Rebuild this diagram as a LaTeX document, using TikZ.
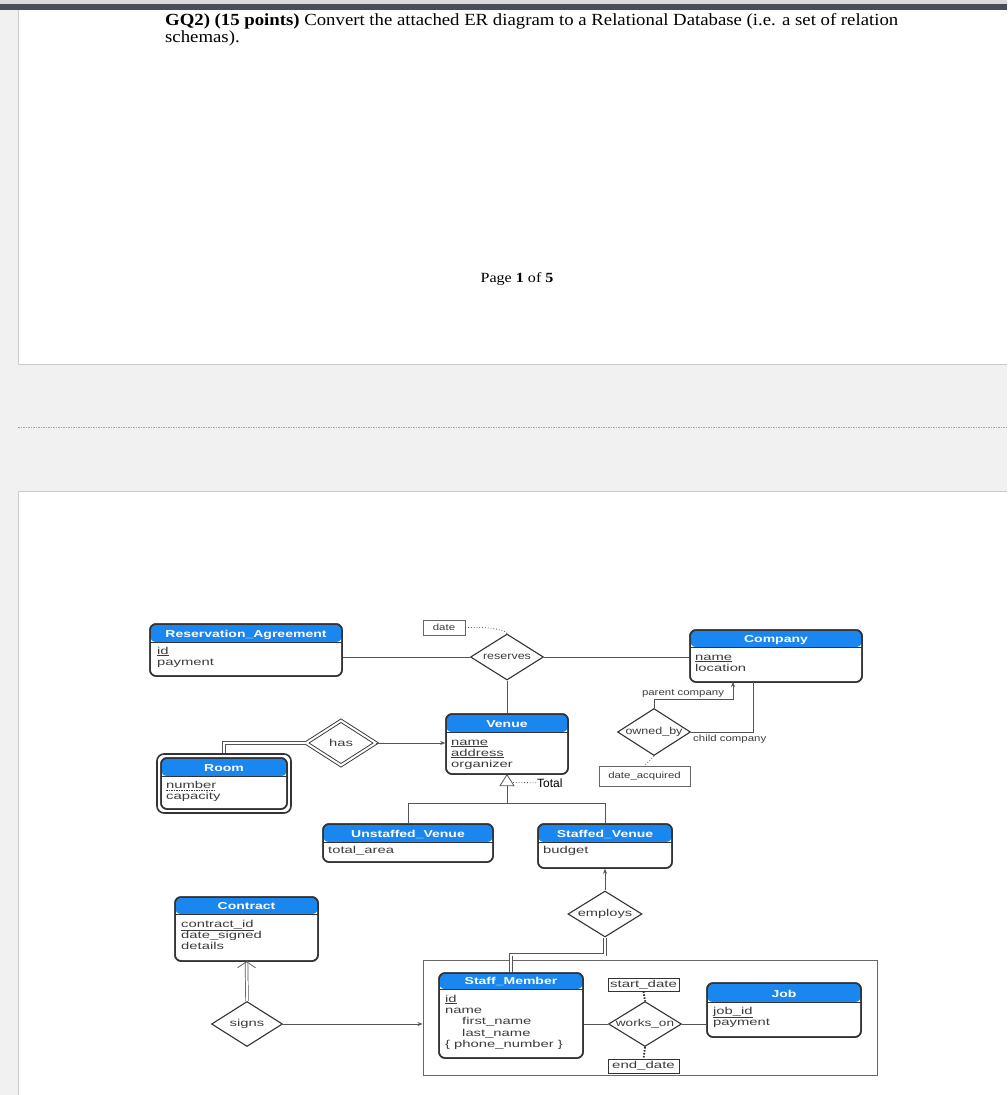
\documentclass[tikz,border=0pt]{standalone}
\usepackage{fontspec}
\setmainfont{Liberation Serif}
\newfontfamily\arialf{Liberation Sans}
\usetikzlibrary{shapes.geometric,arrows.meta}
\definecolor{hdrblue}{HTML}{1A86F0}
\definecolor{pagegray}{HTML}{F1F1F1}
\definecolor{barlight}{HTML}{DADADA}
\definecolor{bardark}{HTML}{494E59}
\definecolor{pageedge}{HTML}{CACACA}
\definecolor{lineg}{HTML}{555555}
\definecolor{txtg}{HTML}{3C3C3C}
\definecolor{eb}{HTML}{333333}
\newcommand{\tx}[2][1.48]{\scalebox{#1}[1]{#2}}
\newsavebox{\lineonebox}
\AtBeginDocument{%
  \sbox{\lineonebox}{\fontsize{17}{16}\selectfont\textbf{GQ2) (15 points)} Convert the attached ER diagram to a Relational Database (i.e. a set of relation}%
  \edef\lineonew{\the\wd\lineonebox}%
  \pgfmathsetmacro\topfac{733/\lineonew}%
}
\newcommand{\entity}[7]{%
  \node[ebox, minimum width={(#4-#2)*1pt}, minimum height={(#5-#3)*1pt},
    path picture={%
      \fill[hdrblue] (path picture bounding box.north west) rectangle ([yshift={(#3-#6)*1pt}]path picture bounding box.north east);
      \draw[eb, line width=0.8pt] ([yshift={(#3-#6)*1pt}]path picture bounding box.north west) -- ([yshift={(#3-#6)*1pt}]path picture bounding box.north east);}
  ] (#1) at ({(#2+#4)/2},{(#3+#5)/2}) {};
  \node[etitle] (#1-t) at ({(#2+#4)/2},{#6-5}) {\tx[1.4]{#7}};
}
\begin{document}
\begin{tikzpicture}[x=1pt,y=-1pt,
  ebox/.style={draw=eb, line width=1.5pt, rounded corners=6pt, fill=white, inner sep=0,
     postaction={draw=eb, line width=1.5pt, rounded corners=6pt}},
  etitle/.style={inner sep=0, anchor=base, font=\arialf\bfseries\fontsize{10}{11}\selectfont, text=white},
  attr/.style={inner sep=0, anchor=base west, font=\arialf\fontsize{10}{11}\selectfont, text=txtg},
  rtext/.style={inner sep=0, font=\arialf\fontsize{10}{11}\selectfont, text=txtg},
  small/.style={inner sep=0, font=\arialf\fontsize{9}{10}\selectfont, text=txtg},
  abox/.style={draw=black!60, line width=0.8pt, inner sep=0, fill=white, font=\arialf\fontsize{9}{10}\selectfont, text=txtg},
  rel/.style={diamond, draw=eb, line width=1.1pt, fill=white, inner sep=0},
  conn/.style={draw=lineg, line width=0.8pt},
  arr/.style={conn, -{Stealth[length=5pt,width=4pt]}},
  dbl/.style={draw=lineg, line width=0.7pt, double=white, double distance=2pt},
  dotc/.style={draw=lineg, line width=0.8pt, dotted},
  dotthick/.style={draw=black!85, line width=1.8pt, dash pattern=on 1.5pt off 1.5pt}
]
\useasboundingbox (0,0) rectangle (1007,1095);
% page background
\fill[pagegray] (0,0) rectangle (1007,1095);
\fill[barlight] (0,0) rectangle (1007,3.5);
\fill[bardark] (0,3.5) rectangle (1007,10);
\fill[white] (18,10) rectangle (1007,364);
\draw[pageedge, line width=1pt] (18,10) -- (18,364) -- (1007,364);
\draw[black!35, line width=1pt, dash pattern=on 1.5pt off 1pt] (18,427) -- (1007,427);
\fill[white] (18,491) rectangle (1007,1095);
\draw[pageedge, line width=1pt] (1007,491) -- (18,491) -- (18,1095);
% question text
\node[anchor=base west, inner sep=0] (q1) at (165,25) {\scalebox{\topfac}[1]{\usebox{\lineonebox}}};
\node[anchor=base west, inner sep=0] (q2) at (165,42) {\scalebox{\topfac}[1]{\fontsize{17}{16}\selectfont schemas).}};
\node[anchor=base, inner sep=0] (pg) at (517,282) {\scalebox{1.15}[1]{\fontsize{14}{16}\selectfont Page \textbf{1} of \textbf{5}}};

% aggregation box
\node[draw=black!60, line width=0.9pt, fill=white, minimum width=454pt, minimum height=115pt, inner sep=0] (agg) at (650,1017.5) {};

% entities
\entity{ra}{150}{624}{342}{676}{642}{Reservation\_Agreement}
\node[attr] (ra-a) at (157,654) {\tx{\begin{tabular}[t]{@{}l@{}}\underline{id}\\payment\end{tabular}}};

\entity{comp}{690}{630}{862}{682}{647}{Company}
\node[attr] (comp-a) at (695,660) {\def\arraystretch{1.09}\tx{\begin{tabular}[t]{@{}l@{}}\underline{name}\\location\end{tabular}}};

\entity{venue}{446}{714}{568}{774}{732}{Venue}
\node[attr] (venue-a) at (451,745) {\tx{\begin{tabular}[t]{@{}l@{}}\underline{name}\\\underline{address}\\organizer\end{tabular}}};

\node[draw=eb, line width=1.6pt, rounded corners=7pt, minimum width=134pt, minimum height=59pt, inner sep=0] (roomo) at (224,783.5) {};
\entity{room}{161}{758}{287}{809}{776}{Room}
\node[attr] (room-a) at (166,788) {\tx{\begin{tabular}[t]{@{}l@{}}number\\capacity\end{tabular}}};
\draw[txtg, line width=0.6pt, dash pattern=on 1.5pt off 1pt] ([yshift=-1.8pt]room-a.base west) -- ++(50,0);

\entity{uv}{323}{824}{493}{862}{842}{Unstaffed\_Venue}
\node[attr] (uv-a) at (328,853) {\tx{total\_area}};

\entity{sv}{538}{824}{672}{868}{842}{Staffed\_Venue}
\node[attr] (sv-a) at (543,853) {\tx{budget}};

\entity{ct}{175}{897}{318}{961}{914}{Contract}
\node[attr] (ct-a) at (181,927) {\tx{\begin{tabular}[t]{@{}l@{}}\underline{contract\_id}\\date\_signed\\details\end{tabular}}};

\entity{sm}{439}{973}{583}{1058}{989}{Staff\_Member}
\node[attr] (sm-a) at (445,1002) {\def\arraystretch{1.03}\tx{\begin{tabular}[t]{@{}l@{}}\underline{id}\\name\\\hspace{11.5pt}first\_name\\\hspace{11.5pt}last\_name\\\{ phone\_number \}\end{tabular}}};

\entity{job}{707}{983}{861}{1037}{1002}{Job}
\node[attr] (job-a) at (713,1014) {\tx{\begin{tabular}[t]{@{}l@{}}\underline{job\_id}\\payment\end{tabular}}};

% relationships
\node[rel, minimum width=73pt, minimum height=46pt] (res) at (507,657) {};
\node[rtext] (res-l) at (res) {\tx[1.25]{reserves}};
\node[rel, double=white, double distance=2pt, line width=0.9pt, minimum width=70pt, minimum height=45pt] (has) at (341,743) {};
\node[rtext] (has-l) at (has) {\tx[1.48]{has}};
\node[rel, minimum width=73pt, minimum height=47pt] (own) at (654,732) {};
\node[rtext] (own-l) at (own) {\tx[1.25]{owned\_by}};
\node[rel, minimum width=74pt, minimum height=46pt] (emp) at (605,914) {};
\node[rtext] (emp-l) at (emp) {\tx[1.46]{employs}};
\node[rel, minimum width=71pt, minimum height=45pt] (signs) at (247,1024) {};
\node[rtext] (signs-l) at (signs) {\tx[1.48]{signs}};
\node[rel, minimum width=73pt, minimum height=45pt] (works) at (645,1024) {};
\node[rtext] (works-l) at (works) {\tx[1.36]{works\_on}};

% attribute boxes
\node[abox, minimum width=42pt, minimum height=15pt] (date) at (444,627.5) {\tx[1.27]{date}};
\node[abox, minimum width=91pt, minimum height=20pt] (dacq) at (644.5,776) {\tx[1.27]{date\_acquired}};
\node[abox, draw=black!80, minimum width=71pt, minimum height=13pt, font=\arialf\fontsize{10}{11}\selectfont] (sd) at (643.5,984.5) {\tx[1.5]{start\_date}};
\node[abox, draw=black!80, minimum width=71pt, minimum height=14pt, font=\arialf\fontsize{10}{11}\selectfont] (ed) at (643.5,1066) {\tx[1.5]{end\_date}};

% connectors
\draw[conn] (ra.east |- res.west) -- (res.west);
\draw[conn] (res.east) -- (res.east -| comp.west);
\draw[conn] (res.south) -- (venue.north);
\draw[dotc] (date.east) .. controls (490,627) and (503,629) .. (res.north);
\draw[arr] (has.east) -- (has.east -| venue.west);
\draw[dbl] (has.west) -| (roomo.north);
\coordinate (pcc) at (733,682);
\coordinate (ccc) at (753,682);
\draw[arr] (own.north) -- ++(0,-9) -| (pcc);
\draw[conn] (own.east) -| (ccc);
\node[small, anchor=base] (pcl) at (683,695) {\tx[1.27]{parent company}};
\node[small, anchor=base west] (ccl) at (693,741) {\tx[1.27]{child company}};
\draw[dotc] (own.south) -- (dacq.north);

% ISA
\draw[conn, fill=white] (venue.south) -- ++(-7,11) -- ++(14,0) -- cycle;
\coordinate (isab) at ([yshift=-11pt]venue.south);
\coordinate (isar) at (513,782.5);
\node[anchor=base west, inner sep=0, font=\arialf\fontsize{12}{12}\selectfont] (tot) at (537,787) {Total};
\draw[dotc] (isar) -- (tot.west);
\coordinate (isah) at ([yshift=-29pt]venue.south);
\draw[conn] (isab) -- (isah);
\draw[conn] (uv.north) |- (isah);
\draw[conn] (sv.north) |- (isah);

\draw[arr] (emp.north) -- (sv.south);
\draw[dbl] (emp.south) -- ++(0,17) -| (sm.north);

\draw[dbl] (signs.north) -- (ct.south);
\draw[conn] ([xshift=-9pt,yshift=-6pt]ct.south) -- (ct.south) -- ([xshift=9pt,yshift=-6pt]ct.south);
\draw[arr] (signs.east) -- (signs.east -| agg.west);

\draw[conn] (works.west -| sm.east) -- (works.west);
\draw[conn] (works.east) -- (works.east -| job.west);
\draw[dotthick] (sd.south) -- (works.north);
\draw[dotthick] (works.south) -- (ed.north);
\end{tikzpicture}
\end{document}
